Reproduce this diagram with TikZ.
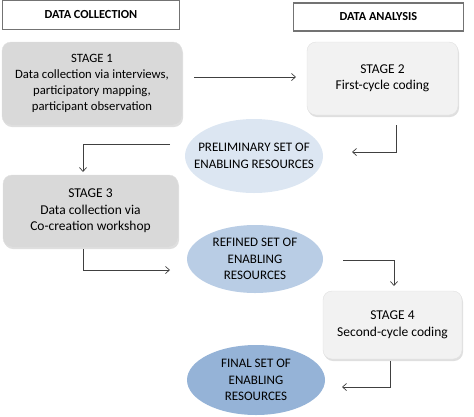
\documentclass[tikz,border=0pt]{standalone}
\usepackage{fontspec}
\setmainfont{Carlito}
\usepackage{tikz}
\usetikzlibrary{arrows.meta,shapes.geometric,shadows}

\definecolor{stagedark}{HTML}{D9D9D9}
\definecolor{stagelight}{HTML}{F2F2F2}
\definecolor{setone}{HTML}{DCE6F2}
\definecolor{settwo}{HTML}{B9CDE5}
\definecolor{setthree}{HTML}{95B3D7}

\tikzset{
  header/.style={draw=black!55, line width=1.3pt, fill=white, inner sep=0pt,
    font=\fontsize{12.3}{15}\selectfont\bfseries},
  stagebox/.style={rounded corners=9pt, inner sep=0pt, align=center,
    draw=black!12, drop shadow={shadow xshift=1pt, shadow yshift=-2pt, opacity=0.25},
    font=\fontsize{13.5}{16.5}\selectfont},
  resset/.style={ellipse, inner xsep=-20pt, inner ysep=-4pt, align=center,
    font=\fontsize{13}{16.5}\selectfont},
  conn/.style={draw=black!75, line width=0.7pt, -{Straight Barb[length=4pt,width=7pt]}}
}

\begin{document}
\begin{tikzpicture}[x=1pt,y=-1pt]
\useasboundingbox (0,0) rectangle (474,416);
\node[header, minimum width=177pt, minimum height=29pt] (dc) at (91,15) {DATA COLLECTION};
\node[header, minimum width=170pt, minimum height=28pt] (da) at (378.5,17) {DATA ANALYSIS};
\node[stagebox, fill=stagedark, minimum width=180pt, minimum height=83pt,
  font=\fontsize{12.7}{16}\selectfont] (s1) at (92,83.5)
  {STAGE 1\\Data collection via interviews,\\participatory mapping,\\participant observation};
\node[stagebox, fill=stagelight, minimum width=151pt, minimum height=73pt] (s2) at (382.5,78.5)
  {STAGE 2\\First-cycle coding};
\node[resset, fill=setone, minimum width=138pt, minimum height=74pt] (prelim) at (254,156)
  {PRELIMINARY SET OF\\ENABLING RESOURCES};
\node[stagebox, fill=stagedark, minimum width=175pt, minimum height=72pt] (s3) at (90.5,211)
  {STAGE 3\\Data collection via\\Co-creation workshop};
\node[resset, fill=settwo, minimum width=136pt, minimum height=68pt] (refined) at (255,259)
  {REFINED SET OF\\ENABLING\\RESOURCES};
\node[stagebox, fill=stagelight, minimum width=139pt, minimum height=68pt] (s4) at (392.5,325)
  {STAGE 4\\Second-cycle coding};
\node[resset, fill=setthree, minimum width=138pt, minimum height=70pt] (final) at (256,380)
  {FINAL SET OF\\ENABLING\\RESOURCES};

\coordinate (c1) at (194,77);
\coordinate (c2) at (296,77);
\coordinate (c3) at (396,125);
\coordinate (c4) at (352,152);
\coordinate (c5) at (170,144);
\coordinate (c6) at (83,172);
\coordinate (c7) at (83,249);
\coordinate (c8) at (170,270);
\coordinate (c9) at (343,260);
\coordinate (c10) at (394,286);
\coordinate (c11) at (390,361);
\coordinate (c12) at (342,387);

\draw[conn] (c1) -- (c2);
\draw[conn] (c3) |- (c4);
\draw[conn] (c5) -| (c6);
\draw[conn] (c7) |- (c8);
\draw[conn] (c9) -| (c10);
\draw[conn] (c11) |- (c12);
\end{tikzpicture}
\end{document}
